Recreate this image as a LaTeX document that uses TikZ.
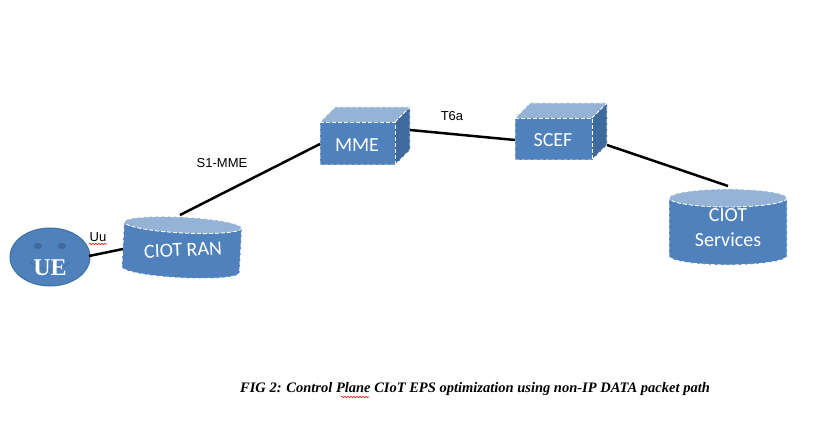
\documentclass[tikz,border=0pt]{standalone}
\usepackage{fontspec}
\setmainfont{Liberation Serif}
\newfontfamily\arialf{Liberation Sans}
\newfontfamily\calf{Carlito}
\usetikzlibrary{decorations.pathmorphing,shapes.geometric}
\definecolor{bfill}{HTML}{4F81BD}
\definecolor{btop}{HTML}{95B3D7}
\definecolor{bside}{HTML}{3E6A9E}
\definecolor{bedge}{HTML}{41719C}
\tikzset{
 dashw/.style={draw=white,dashed,line width=0.9pt,dash pattern=on 4pt off 2pt},
 link/.style={line width=2.5pt,black},
 lbl/.style={font=\arialf\fontsize{13}{15}\selectfont},
 wtxt/.style={text=white,font=\calf\fontsize{20}{22}\selectfont,align=center},
 squig/.style={red,line width=0.6pt,decorate,decoration={snake,amplitude=0.7pt,segment length=3pt}},
}
\newcommand\mybox[5]{% name, x, y, w, h  (front face, top-left)
 \fill[btop] (#2,#3) -- ++(15,-15) -- ++(#4,0) -- ++(-15,15) -- cycle;
 \fill[bside] (#2+#4,#3) -- ++(15,-15) -- ++(0,#5) -- ++(-15,15) -- cycle;
 \fill[bfill] (#2,#3) rectangle ++(#4,#5);
 \draw[dashw] (#2,#3+#5) -- (#2,#3) -- ++(15,-15) -- ++(#4,0) -- ++(0,#5) -- ++(-15,15) -- (#2,#3+#5);
 \draw[dashw] (#2,#3) -- ++(#4,0) -- ++(0,#5);
 \draw[dashw] (#2+#4,#3) -- ++(15,-15);
}
\newcommand\mycyl[6]{% cx, top cy, rx, ry, height, rot
 \begin{scope}[rotate around={#6:(#1,#2)}]
 \fill[bfill] (#1-#3,#2) -- (#1-#3,#2+#5) arc[start angle=180,end angle=360,x radius=#3,y radius=-#4] -- (#1+#3,#2) -- cycle;
 \fill[btop] (#1,#2) ellipse[x radius=#3,y radius=#4];
 \draw[dashw] (#1,#2) ellipse[x radius=#3,y radius=#4];
 \draw[dashw] (#1-#3,#2) -- (#1-#3,#2+#5) arc[start angle=180,end angle=360,x radius=#3,y radius=-#4] -- (#1+#3,#2);
 \end{scope}
}
\begin{document}
\begin{tikzpicture}[x=1pt,y=-1pt]
\useasboundingbox (0,0) rectangle (816,430);
% UE
\node[ellipse,draw=bedge,fill=bfill,line width=1pt,minimum width=80pt,minimum height=58pt,inner sep=0] (ue) at (50,257) {};
\fill[bside,draw=bedge] (38,246) ellipse[x radius=4,y radius=3];
\fill[bside,draw=bedge] (62,246) ellipse[x radius=4,y radius=3];
\draw[bedge,line width=0.8pt] (30,262) .. controls (40,272) and (60,272) .. (70,262);
\node[text=white,font=\bfseries\fontsize{24}{26}\selectfont] at (50,268) {UE};
% RAN
\mycyl{183}{225}{59}{8}{45}{-3}
\node[wtxt,rotate=3] (ran) at (183,250) {CIOT RAN};
% MME, SCEF
\mybox{mme}{320}{122}{75}{43}
\node[wtxt] (mme) at (357,145) {MME};
\mybox{scef}{515}{118}{77}{42}
\node[wtxt] (scef) at (553,140) {SCEF};
% services
\mycyl{728}{198}{59}{9}{58}{0}
\node[wtxt,font=\calf\fontsize{20}{25}\selectfont] (svc) at (728,228) {CIOT\\Services};
% links
\coordinate (ueR) at (89,256); \coordinate (ranL) at (123,249);
\coordinate (ranT) at (180,215); \coordinate (mmeL) at (320,144);
\coordinate (mmeR) at (410,130); \coordinate (scefL) at (515,140);
\coordinate (scefR) at (607,145); \coordinate (svcT) at (728,186);
\draw[link] (ueR) -- (ranL);
\draw[link] (ranT) -- (mmeL);
\draw[link] (mmeR) -- (scefL);
\draw[link] (scefR) -- (svcT);
% labels
\node[lbl] (uu) at (98,237) {Uu};
\draw[squig] (89,244) -- (107,244);
\node[lbl] at (222,163) {S1-MME};
\node[lbl] at (452,116) {T6a};
\node[font=\bfseries\itshape\fontsize{14.5}{16}\selectfont] (cap) at (475,389) {FIG 2: Control Plane CIoT EPS optimization using non-IP DATA packet path};
\draw[squig] (341,397) -- (369,397);
\end{tikzpicture}
\end{document}
